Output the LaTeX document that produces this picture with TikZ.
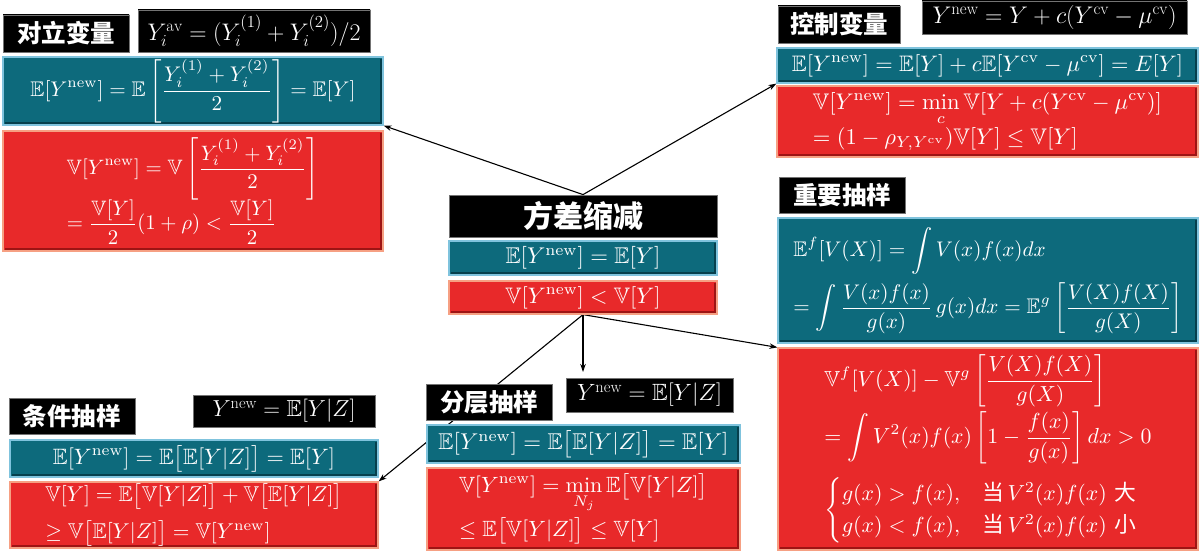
\documentclass[tikz,border=0pt]{standalone}
\usepackage{fix-cm}
\usepackage{amsmath,amssymb}
\usepackage{fontspec}
\newfontfamily\cjk{Noto Sans CJK SC}
\usetikzlibrary{arrows.meta,backgrounds}
\definecolor{tealc}{HTML}{0D6A7C}
\definecolor{tealedge}{HTML}{7FC3DD}
\definecolor{tealdark}{HTML}{06404D}
\definecolor{redc}{HTML}{E8292A}
\definecolor{rededge}{HTML}{F6A083}
\definecolor{reddark}{HTML}{9E1414}
\pgfdeclareverticalshading{gloss}{100bp}{color(0bp)=(black); color(78bp)=(black); color(100bp)=(black!60)}
\newcommand{\nw}{\mathrm{new}}
\newcommand{\cv}{\mathrm{cv}}
\newcommand{\EE}{\mathbb{E}}
\newcommand{\VV}{\mathbb{V}}
\tikzset{
  basebox/.style={rectangle, inner sep=0pt, text=white, align=center},
  blackbox/.style={basebox, shading=gloss, draw=black!55, line width=0.8pt},
  titlebox/.style={blackbox, font=\cjk\bfseries\fontsize{24.5}{28}\selectfont},
  formbox/.style={blackbox, font=\fontsize{24}{28}\selectfont},
  tealbox/.style={basebox, fill=tealc, draw=tealedge, line width=1.2pt,
    path picture={\draw[tealdark, line width=1.6pt]
      ([shift={(-2.2pt,-2.2pt)}]path picture bounding box.north east) --
      ([shift={(-2.2pt,2.2pt)}]path picture bounding box.south east) --
      ([shift={(2.2pt,2.2pt)}]path picture bounding box.south west);}},
  redbox/.style={basebox, fill=redc, draw=rededge, line width=1.2pt,
    path picture={\draw[reddark, line width=1.6pt]
      ([shift={(-2.2pt,-2.2pt)}]path picture bounding box.north east) --
      ([shift={(-2.2pt,2.2pt)}]path picture bounding box.south east) --
      ([shift={(2.2pt,2.2pt)}]path picture bounding box.south west);}},
  arr/.style={-{Stealth[length=8pt,width=5.5pt]}, line width=1.1pt, black},
}
\begin{document}
\begin{tikzpicture}[x=1pt,y=-1pt]
\useasboundingbox (0,0) rectangle (1200,551);
% ---- centre
\node[titlebox, minimum width=268pt, minimum height=42pt, font=\cjk\bfseries\fontsize{30}{34}\selectfont] (t0) at (583,216) {方差缩减};
\node[tealbox, minimum width=268pt, minimum height=34pt] (e0) at (583,258) {\resizebox{155pt}{!}{$\EE[Y^{\nw}] = \EE[Y]$}};
\node[redbox, minimum width=268pt, minimum height=33pt] (v0) at (583,297.5) {\resizebox{155pt}{!}{$\VV[Y^{\nw}] < \VV[Y]$}};
% ---- antithetic
\node[titlebox, minimum width=126pt, minimum height=37pt] (t1) at (66,33.5) {对立变量};
\node[formbox, minimum width=232pt, minimum height=42pt] (f1) at (254,31) {\resizebox{213pt}{!}{$Y_i^{\mathrm{av}} = (Y_i^{(1)} + Y_i^{(2)})/2$}};
\node[tealbox, minimum width=380pt, minimum height=68pt] (e1) at (193,91) {\resizebox{325pt}{!}{$\displaystyle \EE[Y^{\nw}] = \EE\left[\frac{Y_i^{(1)}+Y_i^{(2)}}{2}\right] = \EE[Y]$}};
\node[redbox, minimum width=380pt, minimum height=120pt] (v1) at (193,191) {\resizebox{252pt}{!}{$\begin{array}{@{}l@{}}\displaystyle \VV[Y^{\nw}] = \VV\left[\frac{Y_i^{(1)}+Y_i^{(2)}}{2}\right]\\[2pt] \displaystyle = \frac{\VV[Y]}{2}(1+\rho) < \frac{\VV[Y]}{2}\end{array}$}};
% ---- control variates
\node[titlebox, minimum width=122pt, minimum height=37pt] (t2) at (839,24.5) {控制变量};
\node[formbox, minimum width=265pt, minimum height=33pt] (f2) at (1054.5,17.5) {\resizebox{244pt}{!}{$Y^{\nw} = Y + c(Y^{\cv} - \mu^{\cv})$}};
\node[tealbox, minimum width=421pt, minimum height=35pt] (e2) at (987.5,65.5) {\resizebox{391pt}{!}{$\EE[Y^{\nw}] = \EE[Y] + c\EE[Y^{\cv} - \mu^{\cv}] = E[Y]$}};
\node[redbox, minimum width=421pt, minimum height=71pt] (v2) at (987.5,121.5) {\resizebox{349pt}{!}{$\begin{array}{@{}l@{}}\displaystyle \VV[Y^{\nw}] = \min_c \VV[Y + c(Y^{\cv} - \mu^{\cv})]\\ \displaystyle = (1-\rho_{Y,Y^{\cv}})\VV[Y] \le \VV[Y]\end{array}$}};
% ---- importance sampling
\node[titlebox, minimum width=126pt, minimum height=36pt] (t3) at (842,195) {重要抽样};
\node[tealbox, minimum width=420pt, minimum height=125pt] (e3) at (988,280.5) {\resizebox{389pt}{!}{$\begin{array}{@{}l@{}}\displaystyle \EE^f[V(X)] = \int V(x)f(x)dx\\[9pt] \displaystyle = \int \frac{V(x)f(x)}{g(x)}\,g(x)dx = \EE^g\left[\frac{V(X)f(X)}{g(X)}\right]\end{array}$}};
\node[redbox, minimum width=420pt, minimum height=202pt] (v3) at (988,449) {\resizebox{327pt}{!}{$\begin{array}{@{}l@{}}\displaystyle \VV^f[V(X)] - \VV^g\left[\frac{V(X)f(X)}{g(X)}\right]\\[8pt] \displaystyle = \int V^2(x)f(x)\left[1-\frac{f(x)}{g(x)}\right]dx > 0\\[12pt] {\renewcommand{\arraystretch}{1.0}\begin{cases} g(x) > f(x), & \text{\cjk 当}\,V^2(x)f(x)\ \text{\cjk 大}\\ g(x) < f(x), & \text{\cjk 当}\,V^2(x)f(x)\ \text{\cjk 小}\end{cases}}\end{array}$}};
% ---- conditional sampling
\node[titlebox, minimum width=126pt, minimum height=36pt] (t4) at (72,416) {条件抽样};
\node[formbox, minimum width=182pt, minimum height=32pt] (f4) at (284,411) {\resizebox{143pt}{!}{$Y^{\nw} = \EE[Y|Z]$}};
\node[tealbox, minimum width=368pt, minimum height=37pt] (e4) at (194,458.5) {\resizebox{282pt}{!}{$\EE[Y^{\nw}] = \EE\big[\EE[Y|Z]\big] = \EE[Y]$}};
\node[redbox, minimum width=368pt, minimum height=66pt] (v4) at (194,515) {\resizebox{297pt}{!}{$\begin{array}{@{}l@{}}\VV[Y] = \EE\big[\VV[Y|Z]\big] + \VV\big[\EE[Y|Z]\big]\\[5pt] \ge \VV\big[\EE[Y|Z]\big] = \VV[Y^{\nw}]\end{array}$}};
% ---- stratified sampling
\node[titlebox, minimum width=126pt, minimum height=36pt] (t5) at (489,402) {分层抽样};
\node[formbox, minimum width=167pt, minimum height=34pt] (f5) at (649.5,395) {\resizebox{145pt}{!}{$Y^{\nw} = \EE[Y|Z]$}};
\node[tealbox, minimum width=313pt, minimum height=38pt] (e5) at (583.5,444) {\resizebox{290pt}{!}{$\EE[Y^{\nw}] = \EE\big[\EE[Y|Z]\big] = \EE[Y]$}};
\node[redbox, minimum width=313pt, minimum height=82pt] (v5) at (583.5,509) {\resizebox{249pt}{!}{$\begin{array}{@{}l@{}}\displaystyle \VV[Y^{\nw}] = \min_{N_j} \EE\big[\VV[Y|Z]\big]\\[8pt] \le \EE\big[\VV[Y|Z]\big] \le \VV[Y]\end{array}$}};
% ---- connectors
\coordinate (d5) at (583,372);
\begin{scope}[on background layer]
\draw[arr] (t0.north) -- (e1.south east);
\draw[arr] (t0.north) -- (e2.south west);
\draw[arr] (v0.south) -- (d5);
\draw[arr] (v0.south) -- (v4.north east);
\draw[arr] (v0.south) -- (v3.north west);
\end{scope}
\end{tikzpicture}
\end{document}
